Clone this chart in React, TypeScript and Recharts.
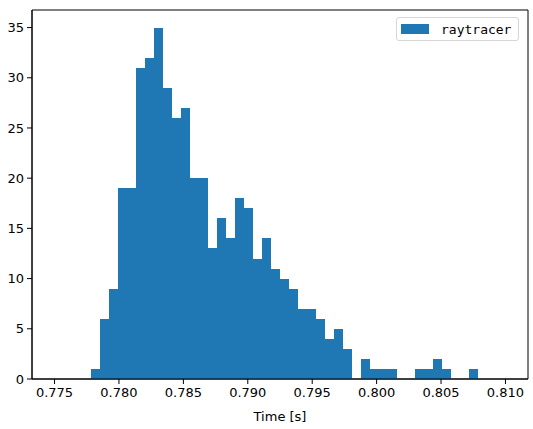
import { Bar, BarChart, ReferenceArea, XAxis, YAxis } from "recharts";

// histogram of raytracer run times, 50 bins of 0.0007 s starting at 0.775 s
const BIN_START = 0.775;
const BIN_WIDTH = 0.0007;
const counts = [
  0, 0, 0, 0, 1, 6, 9, 19, 19, 31,
  32, 35, 29, 26, 27, 20, 20, 13, 16, 14,
  18, 17, 12, 14, 11, 10, 9, 7, 7, 6,
  4, 5, 3, 0, 2, 1, 1, 1, 0, 0,
  1, 1, 2, 1, 0, 0, 1, 0, 0, 0,
];
const xTicks = [0.775, 0.78, 0.785, 0.79, 0.795, 0.8, 0.805, 0.81];
const yTicks = [0, 5, 10, 15, 20, 25, 30, 35];
const xDomain: [number, number] = [0.77325, 0.81175];
const yDomain: [number, number] = [0, 36.75];
const seriesName = "raytracer";

const data = counts.map((count, i) => ({
  time: BIN_START + (i + 0.5) * BIN_WIDTH,
  count,
}));

const BLUE = "#1f77b4";
const FONT = "'DejaVu Sans', sans-serif";

const LegendBox = () => (
  <div
    style={{
      position: "absolute",
      left: 396,
      top: 17,
      display: "flex",
      alignItems: "center",
      width: 123,
      height: 24,
      boxSizing: "border-box",
      border: "1px solid #d6d6d6",
      borderRadius: 3,
      background: "#fff",
      paddingLeft: 4,
    }}
  >
    <div style={{ width: 28, height: 10, background: BLUE }} />
    <span
      style={{
        marginLeft: 12,
        fontFamily: "'DejaVu Sans Mono', monospace",
        fontSize: 13,
        color: "#000",
      }}
    >
      {seriesName}
    </span>
  </div>
);

export default function App() {
  return (
    <div style={{ position: "absolute", left: 0, top: 0, width: 533, height: 429, background: "#fff" }}>
      <style>{`.recharts-bar-rectangle path { shape-rendering: crispEdges; }`}</style>
      <BarChart
        width={533}
        height={429}
        data={data}
        margin={{ top: 10, right: 5, left: 0, bottom: 0 }}
        barCategoryGap={0}
        barGap={0}
      >
        <XAxis
          dataKey="time"
          type="number"
          domain={xDomain}
          ticks={xTicks}
          allowDataOverflow
          tickFormatter={(v: number) => v.toFixed(3)}
          tick={{ fill: "#000", fontSize: 13, fontFamily: FONT }}
          tickSize={5}
          tickMargin={4}
          axisLine={{ stroke: "#000" }}
          tickLine={{ stroke: "#000" }}
          height={50}
          label={{
            value: "Time [s]",
            position: "insideBottom",
            offset: 8,
            fill: "#000",
            fontSize: 13,
            fontFamily: FONT,
          }}
        />
        <YAxis
          type="number"
          domain={yDomain}
          ticks={yTicks}
          allowDataOverflow
          tick={{ fill: "#000", fontSize: 13, fontFamily: FONT }}
          tickSize={5}
          tickMargin={3}
          axisLine={{ stroke: "#000" }}
          tickLine={{ stroke: "#000" }}
          width={32}
        />
        <Bar
          dataKey="count"
          name={seriesName}
          fill={BLUE}
          isAnimationActive={false}
        />
        <ReferenceArea
          x1={xDomain[0]}
          x2={xDomain[1]}
          y1={yDomain[0]}
          y2={yDomain[1]}
          fill="none"
          stroke="#000"
          strokeWidth={1}
          fillOpacity={0}
        />
      </BarChart>
      <LegendBox />
    </div>
  );
}
